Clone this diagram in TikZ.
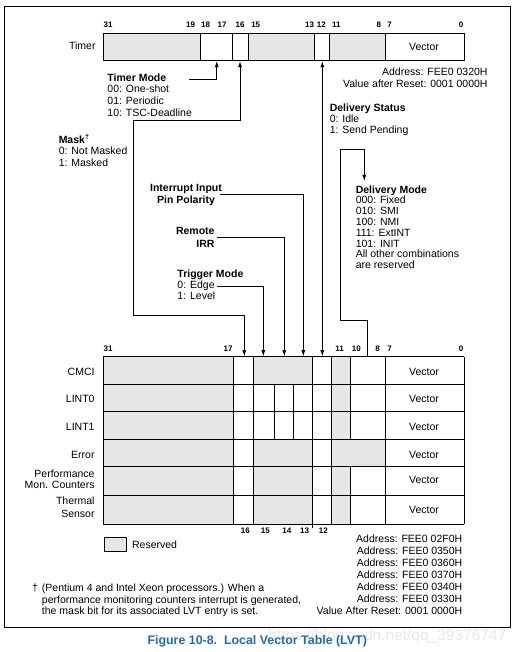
\documentclass[tikz,border=0pt]{standalone}
\usepackage{fontspec}
\setmainfont{Liberation Sans}
\usetikzlibrary{arrows.meta}
\definecolor{resgray}{RGB}{230,230,230}
\definecolor{figblue}{RGB}{35,105,180}
\begin{document}
\begin{tikzpicture}[x=1pt, y=-1pt, line width=0.9pt,
    txt/.style={inner sep=0pt, font=\fontsize{10.5}{#1}\selectfont},
    txt/.default=11.4,
    bitnum/.style={inner sep=0pt, anchor=base, font=\fontsize{8}{8}\selectfont\bfseries},
    conn/.style={line width=0.8pt, -{Latex[length=6pt,width=4pt]}},
    bothconn/.style={line width=0.8pt, {Latex[length=6pt,width=4pt]}-{Latex[length=6pt,width=4pt]}}]
    \useasboundingbox (0,0) rectangle (519,652);

    % Frame
    \draw (4.5,6) rectangle (510.5,627.5);

    % Timer register
    \fill[resgray] (103.3,33.3) rectangle (200.3,60.7);
    \fill[resgray] (248.3,33.3) rectangle (314.3,60.7);
    \fill[resgray] (329.3,33.3) rectangle (385.7,60.7);
    \draw (103.3,33.3) rectangle (464.3,60.7);
    \foreach \x in {200.3,232.3,248.3,314.3,329.3,385.7}
        \draw (\x,33.3) -- (\x,60.7);
    \node[txt, anchor=base east] (timer) at (96,49.5) {Timer};
    \node[txt, anchor=base] (tvec) at (424,50.8) {Vector};

    % Timer bit numbers
    \foreach \x/\b in {108/31,190.5/19,205.5/18,222/17,240/16,255.7/15,
                       309.5/13,321.3/12,336.3/11,378.8/8,389.5/7,461/0}
        \node[bitnum] (tb\b) at (\x,27.9) {\b};

    % multi-line texts: base = last line
    \node[txt=12.3, anchor=base east, align=right] (taddr) at (488,87.8)
        {Address: FEE0 0320H\\Value after Reset: 0001 0000H};

    % Field descriptions
    \node[txt=11.7, anchor=base west, align=left] (tmode) at (107,116.2)
        {\textbf{Timer Mode}\\00: One-shot\\01: Periodic\\10: TSC-Deadline};
    \node[txt, anchor=base west, align=left] (dstat) at (329.3,133.9)
        {\textbf{Delivery Status}\\0: Idle\\1: Send Pending};
    \node[txt=11.2, anchor=base west, align=left] (mask) at (58.3,166.2)
        {\textbf{Mask}\textsuperscript{\textbf{†}}\\0: Not Masked\\1: Masked};
    \node[txt=11.6, anchor=base, align=center, font=\fontsize{10.5}{11.6}\selectfont\bfseries] (pinpol) at (186,203.1)
        {Interrupt Input\\Pin Polarity};
    \node[txt=12.3, anchor=base east, align=right, font=\fontsize{10.5}{12.3}\selectfont\bfseries] (rirr) at (215,247.1)
        {Remote\\IRR};
    \node[txt=11, anchor=base west, align=left] (trig) at (177,299.8)
        {\textbf{Trigger Mode}\\0: Edge\\1: Level};
    \node[txt=10.8, anchor=base west, align=left] (dmode) at (355.3,268.7)
        {\textbf{Delivery Mode}\\000: Fixed\\010: SMI\\100: NMI\\111: ExtINT\\101: INIT\\All other combinations\\are reserved};

    % LVT table
    \fill[resgray] (103.3,356.7) rectangle (233.3,524.3);
    \fill[resgray] (253.7,356.7) rectangle (312.3,384.3);
    \fill[resgray] (253.7,439.3) rectangle (312.3,524.3);
    \fill[resgray] (331.7,356.7) rectangle (350.3,524.3);
    \fill[resgray] (350.3,439.3) rectangle (385.7,466.3);
    \foreach \y in {356.7,384.3,411.7,439.3,466.3,495.7,524.3}
        \draw (103.3,\y) -- (464.3,\y);
    \foreach \x in {103.3,233.3,253.7,312.3,331.7,385.7,464.3}
        \draw (\x,356.7) -- (\x,524.3);
    \foreach \x in {274.3,293.3}
        \draw (\x,384.3) -- (\x,439.3);
    \draw (350.3,356.7) -- (350.3,439.3);
    \draw (350.3,466.3) -- (350.3,524.3);
    \draw (312.3,524.3) -- (312.3,527.5);

    % Table bit numbers
    \foreach \x/\b in {108/31,228/17,339.5/11,356.3/10,377.7/8,389.7/7,461/0}
        \node[bitnum] (lb\b) at (\x,351.9) {\b};
    \foreach \x/\b in {245.3/16,265.3/15,286.8/14,304.5/13,323.3/12}
        \node[bitnum] (bb\b) at (\x,533.9) {\b};

    % Row names and vectors
    \node[txt, anchor=base east] (cmci) at (95,375.5) {CMCI};
    \node[txt, anchor=base east] (lint0) at (95,402.1) {LINT0};
    \node[txt, anchor=base east] (lint1) at (95,430.5) {LINT1};
    \node[txt, anchor=base east] (error) at (95,458.1) {Error};
    \node[txt=11.7, anchor=base east, align=right] (perf) at (95,488.8) {Performance\\Mon. Counters};
    \node[txt=12.3, anchor=base east, align=right] (therm) at (95,517.1) {Thermal\\Sensor};
    \foreach \y [count=\i] in {375.5,402.1,430.5,458.1,483.8,513.1}
        \node[txt, anchor=base] (vec\i) at (424,\y) {Vector};

    % Legend
    \draw[fill=resgray] (104.3,537.3) rectangle (126,551.7);
    \node[txt, anchor=base west] (reserved) at (131.7,548.8) {Reserved};

    \node[txt=12.1, anchor=base east, align=right] (laddr) at (462.7,614.7)
        {Address: FEE0 02F0H\\Address: FEE0 0350H\\Address: FEE0 0360H\\Address: FEE0 0370H\\Address: FEE0 0340H\\Address: FEE0 0330H\\Value After Reset: 0001 0000H};

    % Footnote
    \node[txt, anchor=base west] (dag) at (31.7,591.5) {†};
    \node[txt=11.7, anchor=base west, align=left] (foot) at (41.5,614.9)
        {(Pentium 4 and Intel Xeon processors.) When a\\performance monitoring counters interrupt is generated,\\the mask bit for its associated LVT entry is set.};

    % Caption
    \node[inner sep=0pt, anchor=base west, text=gray!18, font=\fontsize{15.5}{15.5}\selectfont] (wmark) at (268,640.5)
        {https://blog.csdn.net/qq\_39376747};
    \node[inner sep=0pt, anchor=base, text=figblue, font=\fontsize{12.4}{12.4}\selectfont\bfseries] (caption) at (257.2,644)
        {Figure 10-8.\ \ Local Vector Table (LVT)};

    % Connectors
    \coordinate (t1817) at (216.7,61.2);
    \coordinate (t16) at (240,61.2);
    \coordinate (t12) at (322.3,61.2);
    \coordinate (l16) at (244.3,356.2);
    \coordinate (l15) at (263.3,356.2);
    \coordinate (l14) at (284.3,356.2);
    \coordinate (l13) at (303.3,356.2);
    \coordinate (l12) at (322.3,356.2);
    \coordinate (l108) at (367.3,356.7);
    \coordinate (tmstart) at (189,79.3);
    \coordinate (maskA) at (133.3,120.7);
    \coordinate (maskB) at (244.3,315);
    \coordinate (ppstart) at (220,194.3);
    \coordinate (irrstart) at (217.3,237.3);
    \coordinate (trstart) at (217,286);
    \coordinate (dmA) at (340.7,320);
    \coordinate (dmB) at (364.3,149.3);
    \coordinate (dmtip) at (364.3,181);

    \draw[conn] (tmstart) -| (t1817);
    \draw[bothconn] (t16) |- (maskA) |- (maskB) -- (l16);
    \draw[bothconn] (t12) -- (l12);
    \draw[conn] (ppstart) -| (l13);
    \draw[conn] (irrstart) -| (l14);
    \draw[conn] (trstart) -| (l15);
    \draw[conn] (l108) |- (dmA) |- (dmB) -- (dmtip);
\end{tikzpicture}
\end{document}
